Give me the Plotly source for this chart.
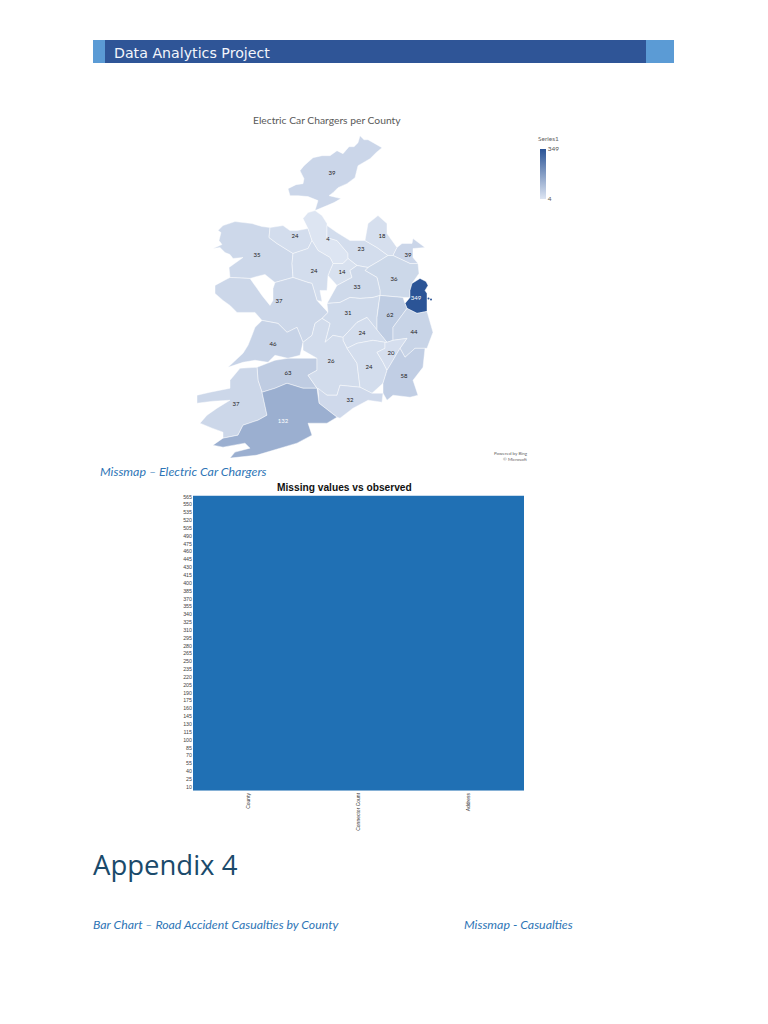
import plotly.graph_objects as go

# ---------- data ----------
COUNTIES = {
 "Donegal":(39,[(360,135),(364,139),(368,139),(382,147),(376,152),(370,158),(358,165),(356,172),(355,177),(347,183),(338,187),(333,192),(329,195),(341,198),(334,202),(327,205),(315,210),(318,200),(308,196),(298,195),(290,195),(288,188),(296,184),(303,183),(304,178),(300,170),(304,165),(313,157),(322,155),(330,155),(337,150),(343,153),(349,146),(354,146),(358,142)]),
 "Mayo":(35,[(223,225),(235,221),(252,223),(262,226),(270,227),(269,237),(277,243),(293,253),(292,263),(293,277),(275,282),(265,274),(257,276),(250,278),(230,277),(229,267),(236,262),(243,257),(233,258),(230,254),(225,252),(220,247),(213,248),(222,244),(219,240),(221,232),(218,230)]),
 "Sligo":(24,[(270,227),(283,225),(290,230),(297,230),(308,228),(312,240),(308,248),(293,253),(277,243),(269,237)]),
 "Leitrim":(4,[(303,218),(308,212),(315,210),(322,215),(327,223),(327,237),(337,240),(348,253),(348,258),(343,263),(333,263),(330,257),(318,250),(312,240),(308,228)]),
 "Cavan":(23,[(327,225),(337,232),(350,240),(365,240),(377,247),(388,255),(380,260),(368,267),(357,265),(348,258),(348,253),(337,240),(327,237)]),
 "Monaghan":(18,[(365,240),(368,223),(378,215),(387,223),(387,233),(397,247),(393,255),(388,255),(377,247)]),
 "Louth":(39,[(397,247),(402,243),(412,243),(413,238),(425,247),(413,248),(413,257),(418,263),(410,263),(393,255)]),
 "Meath":(36,[(388,255),(393,255),(410,263),(418,263),(419,273),(412,283),(410,290),(410,297),(403,297),(380,295),(380,290),(377,277),(365,270),(368,267),(380,260)]),
 "Dublin":(349,[(420,278),(426,281),(428,285),(425,290),(427,293),(427,299),(427,311),(417,313),(407,308),(405,303),(410,297),(410,290),(412,283)]),
 "Longford":(14,[(333,263),(343,263),(348,258),(357,265),(350,270),(352,277),(337,285),(328,275),(330,270)]),
 "Westmeath":(33,[(357,265),(368,267),(365,270),(377,277),(380,290),(380,295),(373,297),(360,298),(350,297),(340,302),(327,303),(333,293),(337,285),(352,277),(350,270)]),
 "Roscommon":(24,[(293,253),(308,248),(312,240),(318,250),(330,257),(333,263),(330,270),(328,275),(327,290),(320,290),(322,301),(317,300),(312,283),(308,282),(293,277),(292,263)]),
 "Galway":(37,[(275,282),(293,277),(308,282),(312,283),(317,300),(328,312),(322,318),(315,323),(312,335),(303,342),(297,327),(287,332),(278,323),(262,320),(255,312),(237,312),(230,305),(223,300),(215,293),(215,285),(226,279),(230,277),(250,278),(254,284),(262,295),(270,305),(273,300),(273,288)]),
 "Offaly":(31,[(327,303),(340,302),(350,297),(360,298),(373,297),(380,295),(378,308),(377,317),(377,330),(367,317),(357,322),(343,337),(333,335),(325,342),(330,323),(322,318),(328,312)]),
 "Kildare":(62,[(380,295),(403,297),(405,303),(407,308),(393,327),(393,340),(387,342),(377,330),(377,317),(378,308)]),
 "Wicklow":(44,[(407,308),(417,313),(427,311),(430,322),(433,332),(427,348),(415,348),(405,357),(400,348),(407,338),(393,340),(393,327)]),
 "Laois":(24,[(343,337),(357,322),(367,317),(377,330),(387,342),(385,342),(373,340),(357,343),(347,348),(343,340)]),
 "Clare":(46,[(262,320),(278,323),(287,332),(297,327),(303,342),(300,355),(288,358),(275,355),(268,362),(255,360),(243,362),(228,367),(243,353),(248,345),(252,335),(255,327)]),
 "Limerick":(63,[(257,367),(275,360),(288,358),(307,358),(317,358),(317,370),(308,375),(317,388),(303,388),(287,383),(275,388),(262,392),(258,380)]),
 "Tipperary":(26,[(317,358),(303,350),(303,342),(312,335),(315,323),(322,318),(330,323),(325,342),(333,335),(343,337),(343,340),(347,348),(357,363),(360,387),(340,385),(337,395),(327,395),(318,388),(317,388),(308,375),(317,370)]),
 "Kilkenny":(24,[(347,348),(357,343),(373,340),(385,342),(385,348),(377,352),(383,362),(387,370),(383,383),(372,393),(360,387),(357,363)]),
 "Carlow":(20,[(385,348),(385,342),(387,342),(393,340),(407,338),(400,348),(393,360),(387,370),(383,362),(377,352)]),
 "Wexford":(58,[(405,357),(415,348),(425,348),(423,367),(413,380),(418,395),(410,397),(393,395),(387,400),(383,393),(383,383),(387,370),(393,360),(400,348)]),
 "Waterford":(32,[(318,388),(327,395),(337,395),(340,385),(360,387),(372,393),(383,393),(382,402),(368,400),(353,408),(340,418),(337,417),(319,403)]),
 "Kerry":(37,[(240,368),(257,367),(258,380),(262,392),(267,415),(258,420),(243,425),(238,435),(223,438),(223,432),(212,428),(200,423),(207,415),(217,408),(230,400),(213,401),(197,403),(197,395),(210,392),(230,388),(230,380)]),
 "Cork":(132,[(262,392),(275,388),(287,383),(303,388),(317,388),(319,403),(337,417),(327,423),(308,423),(312,435),(297,443),(280,448),(257,455),(230,458),(235,452),(250,448),(245,443),(223,447),(213,445),(223,438),(238,435),(243,425),(258,420),(267,415)]),
}
LABELS = {"Donegal":(332,173),"Sligo":(295,236),"Leitrim":(328,239),"Mayo":(257,255),"Roscommon":(314,271),"Longford":(342,272),
 "Cavan":(361,249),"Monaghan":(382,236),"Louth":(408,255),"Meath":(394,279),"Dublin":(416,298),"Westmeath":(357,287),"Galway":(279,301),
 "Offaly":(348,313),"Kildare":(390,315),"Wicklow":(414,332),"Laois":(362,333),"Carlow":(391,353),"Clare":(273,344),"Tipperary":(331,361),
 "Kilkenny":(369,367),"Wexford":(404,376),"Limerick":(288,373),"Waterford":(350,400),"Kerry":(236,404),"Cork":(283,421)}
DUBLIN_ISLANDS = [(428.5,298),(431,299)]
SERIES_MIN, SERIES_MAX = 4, 349
MISS_COLS = ["County", "Connector Count", "Address"]
MISS_ROW = [1, 1, 1]
MISS_Y_TICKS = [10,25,40,55,70,85,100,115,130,145,160,175,190,205,220,235,250,265,280,295,310,325,340,355,370,385,400,415,430,445,460,475,490,505,520,535,550,565]

W, H = 768, 1024
LOW, HIGH = (221,229,242), (43,84,150)

def shade(v):
    t = (v - SERIES_MIN) / (SERIES_MAX - SERIES_MIN)
    return "rgb(%d,%d,%d)" % tuple(round(a + t * (b - a)) for a, b in zip(LOW, HIGH))

fig = go.Figure()

for name, (val, pts) in COUNTIES.items():
    xs = [p[0] for p in pts] + [pts[0][0]]
    ys = [p[1] for p in pts] + [pts[0][1]]
    fig.add_trace(go.Scatter(x=xs, y=ys, mode="lines", fill="toself", fillcolor=shade(val),
                             line=dict(color="rgba(255,255,255,0.75)", width=0.6), name=name,
                             hoverinfo="name", showlegend=False, xaxis="x", yaxis="y"))
fig.add_trace(go.Scatter(x=[p[0] for p in DUBLIN_ISLANDS], y=[p[1] for p in DUBLIN_ISLANDS], mode="markers",
                         marker=dict(size=2, color=shade(349)), showlegend=False, hoverinfo="skip"))
names = list(LABELS)
vals = [COUNTIES[n][0] for n in names]
fig.add_trace(go.Scatter(
    x=[LABELS[n][0] for n in names], y=[LABELS[n][1] for n in names], mode="markers+text",
    text=[str(v) for v in vals], textposition="middle center",
    textfont=dict(family="Lato", size=6, color=["#ffffff" if v > 100 else "#222222" for v in vals]),
    marker=dict(size=0.1, color=vals, cmin=SERIES_MIN, cmax=SERIES_MAX,
                colorscale=[[0, "rgb(221,229,242)"], [1, "rgb(43,84,150)"]],
                colorbar=dict(x=540/W, xanchor="left", y=1-147/H, yanchor="top", len=50, lenmode="pixels",
                              thickness=6, thicknessmode="pixels", outlinewidth=0, tickvals=[SERIES_MIN, SERIES_MAX],
                              ticks="", tickfont=dict(family="Lato", size=6.5, color="#555555"), ypad=0, xpad=0)),
    showlegend=False, hoverinfo="skip"))

fig.add_trace(go.Heatmap(z=[MISS_ROW], x=MISS_COLS, y0=284.75, dy=565, colorscale=[[0, "#2070b4"], [1, "#2070b4"]],
                         showscale=False, xaxis="x2", yaxis="y2", hoverinfo="skip"))

shapes = [
    dict(type="rect", xref="paper", yref="paper", x0=93/W, x1=674/W, y0=1-61/H, y1=1-38/H, fillcolor="#5b9bd5", line_width=0, layer="below"),
    dict(type="rect", xref="paper", yref="paper", x0=105/W, x1=646/W, y0=1-61/H, y1=1-38/H, fillcolor="#2f5597", line_width=0, layer="below"),
]

def ann(text, x, y, size, color, family, anchor="left"):
    return dict(text=text, xref="paper", yref="paper", x=x/W, y=1-y/H, xanchor=anchor, yanchor="middle",
                showarrow=False, font=dict(size=size, color=color, family=family))

CAPTION = "#2e75b6"
annotations = [
    ann("Data Analytics Project", 111.5, 51, 14.2, "#f4f6fb", "DejaVu Sans"),
    ann("Electric Car Chargers per County", 326.5, 118, 10.3, "#595959", "Lato", "center"),
    ann("Series1", 536, 137, 6.5, "#666666", "Lato"),
    ann("Powered by Bing", 530, 452, 4.5, "#666666", "Lato", "right"),
    ann("© Microsoft", 530, 458, 4.5, "#666666", "Lato", "right"),
    ann("<i>Missmap – Electric Car Chargers</i>", 97.5, 470, 12.4, CAPTION, "Lato"),
    ann("<b>Missing values vs observed</b>", 344.5, 486, 10.2, "#111111", "Liberation Sans", "center"),
    ann("Appendix 4", 91, 864, 27.5, "#1a4a6b", "Open Sans"),
    ann("<i>Bar Chart – Road Accident Casualties by County</i>", 91, 924, 12.3, CAPTION, "Lato"),
    ann("<i>Missmap - Casualties</i>", 461.5, 924, 12.4, CAPTION, "Lato"),
]

fig.update_layout(
    width=W, height=H, margin=dict(l=0, r=0, t=0, b=0), autosize=False,
    paper_bgcolor="white", plot_bgcolor="rgba(0,0,0,0)", shapes=shapes, annotations=annotations,
    xaxis=dict(domain=[180/W, 540/W], range=[180, 540], visible=False, fixedrange=True),
    yaxis=dict(domain=[1-465/H, 1-125/H], range=[466, 126], visible=False, fixedrange=True),
    xaxis2=dict(domain=[193/W, 524/W], anchor="y2", type="category", tickangle=-90, ticks="", showgrid=False, zeroline=False,
                tickfont=dict(family="Liberation Sans", size=5, color="#333333")),
    yaxis2=dict(domain=[1-790.5/H, 1-494.5/H], anchor="x2", range=[2.25, 567.25], tickvals=MISS_Y_TICKS, ticks="", showgrid=False, zeroline=False,
                tickfont=dict(family="Liberation Sans", size=5.3, color="#444444")),
)
fig.write_html("out.html", config={"displayModeBar": False}, post_script="document.body.style.margin='0';")
